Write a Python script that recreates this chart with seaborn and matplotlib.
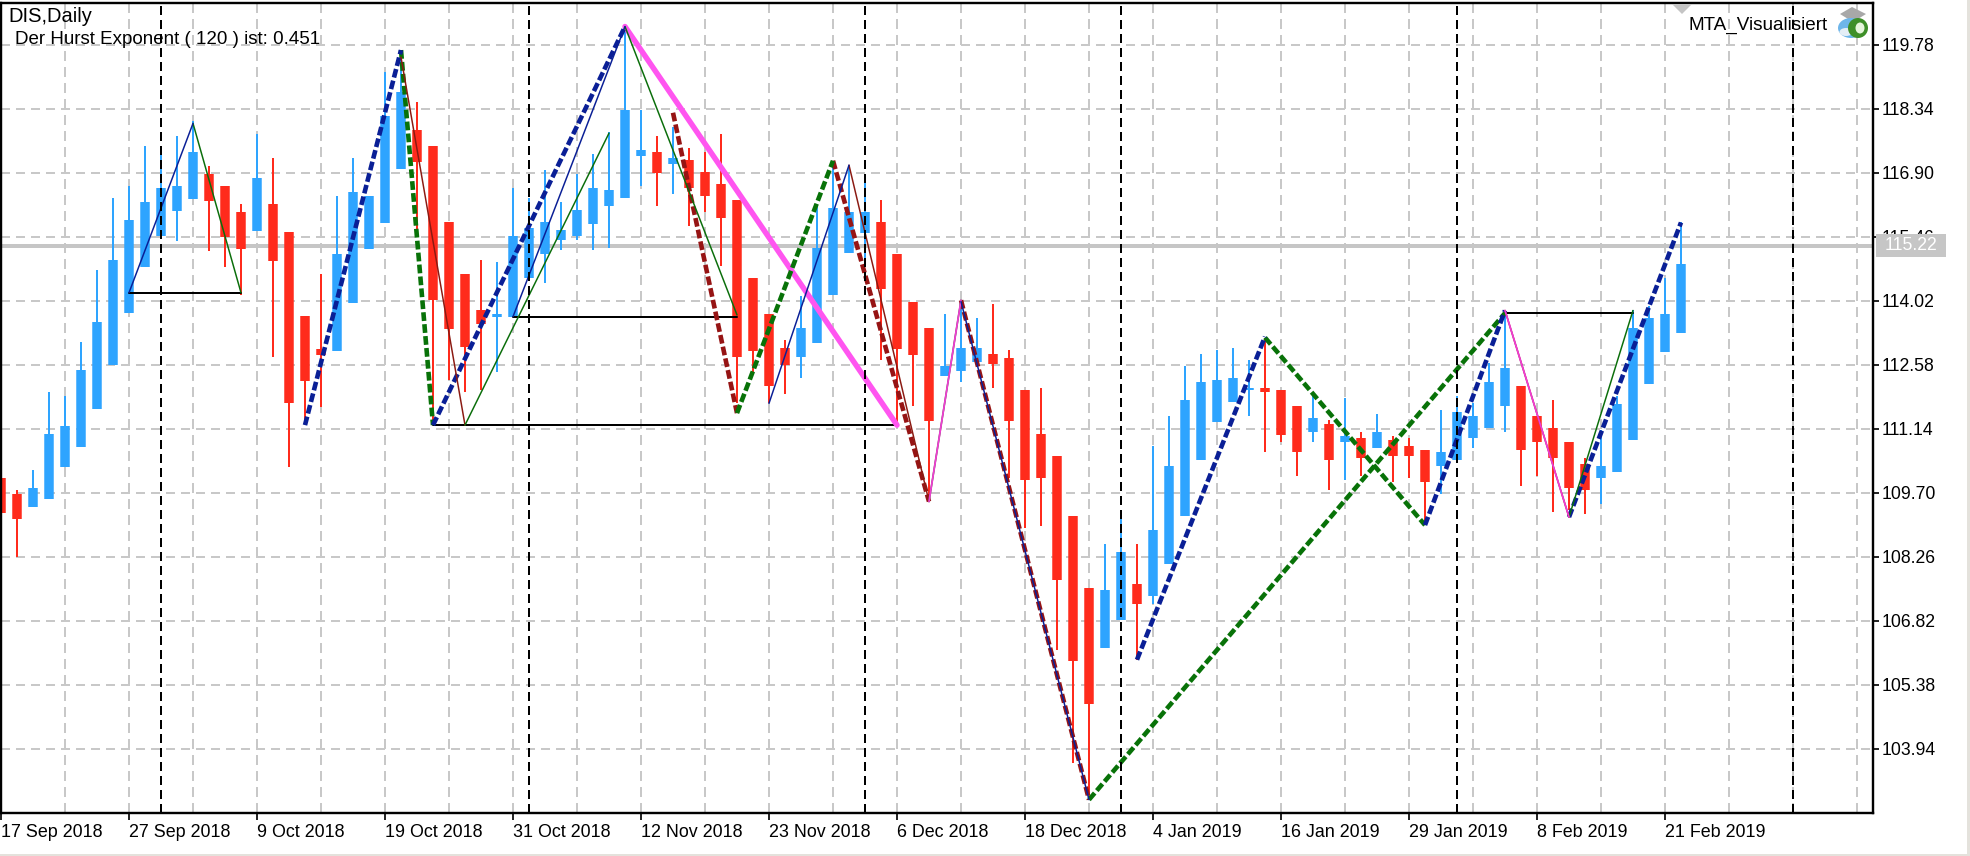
import pandas as pd
import seaborn as sns
import matplotlib
matplotlib.use('Agg')
import matplotlib.pyplot as plt
from matplotlib.patches import Rectangle, Ellipse, Polygon

# candles
opens = [110.03, 109.67, 109.37, 109.55, 110.27, 110.72, 111.58, 112.57, 113.74, 114.77,
         115.48, 116.03, 116.30, 116.87, 116.60, 116.02, 115.58, 116.20, 115.57, 113.68,
         112.94, 112.88, 113.96, 115.18, 115.76, 116.98, 117.86, 117.50, 115.79, 114.62,
         113.81, 113.65, 113.66, 114.53, 115.07, 115.39, 115.48, 115.75, 116.15, 116.33,
         117.28, 117.37, 117.10, 117.19, 116.92, 116.65, 116.29, 114.53, 113.72, 112.96,
         112.75, 113.06, 114.14, 115.09, 115.54, 115.79, 115.07, 113.99, 113.41, 112.33,
         112.43, 112.64, 112.82, 112.73, 112.01, 111.02, 110.53, 109.18, 107.56, 106.21,
         106.84, 107.65, 107.38, 108.10, 109.18, 110.44, 111.29, 111.74, 112.01, 112.06,
         112.01, 111.65, 111.07, 111.25, 110.84, 110.93, 110.71, 110.89, 110.75, 110.66,
         110.30, 110.44, 110.93, 111.16, 111.65, 112.10, 111.43, 111.16, 110.84, 110.35,
         110.03, 110.17, 110.89, 112.15, 112.87, 113.29]
highs = [110.10, 109.76, 110.21, 111.97, 111.88, 113.09, 114.71, 116.33, 116.60, 117.50,
         117.41, 117.73, 118.07, 117.05, 116.60, 116.20, 117.77, 117.23, 115.57, 113.68,
         114.62, 116.38, 117.23, 116.38, 119.17, 119.66, 118.49, 117.50, 115.79, 114.62,
         114.94, 114.89, 116.56, 116.33, 116.96, 116.24, 116.87, 117.32, 117.82, 120.22,
         118.31, 117.73, 117.94, 117.46, 117.37, 117.77, 116.29, 114.53, 113.72, 113.14,
         114.13, 116.15, 117.04, 117.04, 116.78, 116.29, 115.07, 113.99, 113.41, 113.72,
         113.99, 113.63, 113.95, 112.91, 112.01, 112.06, 110.53, 109.18, 107.56, 108.55,
         109.13, 108.55, 110.75, 111.43, 112.55, 112.82, 112.91, 112.96, 112.69, 113.18,
         112.01, 111.65, 111.88, 111.34, 111.83, 111.07, 111.47, 110.98, 110.93, 110.66,
         111.56, 111.88, 111.71, 112.61, 113.80, 112.10, 111.43, 111.79, 110.84, 110.48,
         111.11, 111.88, 113.81, 113.89, 114.53, 115.79]
lows = [109.20, 108.25, 109.37, 109.55, 110.27, 110.72, 111.58, 112.57, 113.74, 114.77,
        115.48, 115.36, 116.30, 115.13, 114.77, 114.14, 115.58, 112.75, 110.27, 111.26,
        111.62, 112.88, 113.96, 115.18, 115.76, 116.98, 115.54, 111.22, 112.24, 111.97,
        112.01, 112.42, 113.66, 114.53, 114.41, 115.16, 115.39, 115.16, 115.21, 116.33,
        116.60, 116.15, 116.42, 115.70, 116.02, 114.80, 111.71, 112.39, 111.71, 111.92,
        112.28, 113.06, 114.14, 115.09, 114.94, 112.69, 111.22, 111.65, 109.54, 112.33,
        112.19, 112.64, 112.06, 110.03, 108.91, 108.95, 106.16, 103.61, 102.79, 106.21,
        106.84, 105.94, 107.20, 108.10, 109.18, 110.44, 111.29, 111.74, 111.43, 110.62,
        110.84, 110.08, 110.85, 109.76, 109.99, 110.08, 110.71, 109.94, 110.03, 109.01,
        109.67, 110.44, 110.71, 111.16, 111.07, 109.85, 110.08, 109.27, 109.31, 109.22,
        109.45, 110.17, 110.89, 112.15, 112.87, 113.29]
closes = [109.24, 109.10, 109.81, 111.02, 111.20, 112.46, 113.54, 114.94, 115.84, 116.24,
          116.56, 116.60, 117.37, 116.26, 115.45, 115.18, 116.78, 114.91, 111.71, 112.21,
          112.79, 115.07, 116.47, 116.38, 118.18, 118.72, 117.14, 114.04, 113.38, 112.97,
          113.50, 113.72, 115.48, 115.66, 115.79, 115.61, 116.06, 116.56, 116.51, 118.31,
          117.41, 116.89, 117.23, 116.56, 116.38, 115.88, 112.75, 112.88, 112.10, 112.57,
          113.41, 115.21, 116.11, 116.02, 116.02, 114.28, 112.93, 112.79, 111.31, 112.55,
          112.96, 112.96, 112.60, 111.31, 109.99, 110.03, 107.74, 105.90, 104.95, 107.51,
          108.37, 107.20, 108.86, 110.30, 111.79, 112.19, 112.24, 112.28, 112.06, 111.97,
          111.00, 110.62, 111.38, 110.44, 110.98, 110.48, 111.07, 110.53, 110.53, 109.94,
          110.62, 111.52, 111.43, 112.19, 112.51, 110.66, 110.84, 110.48, 109.81, 109.76,
          110.30, 111.70, 113.41, 113.63, 113.72, 114.85]

# zigzag lines as (bar, price) pairs
blue_thick = [[(19, 111.22), (25, 119.66)], [(27, 111.22), (39, 120.19)],
              [(71, 105.94), (79, 113.21)], [(89, 108.97), (94, 113.80)],
              [(98, 109.15), (105, 115.78)]]
green_thick = [[(25, 119.66), (27, 111.22)], [(46, 111.49), (52, 117.17)],
               [(68, 102.79), (94, 113.74)], [(79, 113.19), (89, 108.97)]]
red_thick = [[(42, 118.25), (46, 111.49)], [(52, 117.17), (58, 109.50)],
             [(60, 114.03), (68, 102.79)]]
magenta_thick = [[(39, 120.19), (56, 111.22)]]
red_thin = [[(25, 119.50), (29, 111.22)], [(53, 117.07), (58, 109.50)],
            [(94, 113.80), (98, 109.15)]]
green_thin = [[(12, 118.01), (15, 114.20)], [(39, 120.19), (46, 113.70)],
              [(29, 111.22), (38, 117.79)], [(58, 109.50), (60, 114.03)],
              [(98, 109.15), (102, 113.80)]]
blue_thin = [[(8, 114.20), (12, 118.01)], [(32, 113.66), (39, 120.19)],
             [(48, 111.71), (53, 117.07)], [(60, 114.00), (68, 102.79)]]
magenta_thin = [[(58, 109.50), (60, 114.03)], [(94, 113.80), (98, 109.15)]]
black_flat = [[(8, 114.20), (15, 114.20)], [(32, 113.66), (46, 113.66)],
              [(27, 111.22), (56, 111.22)], [(94, 113.75), (102, 113.75)]]

price_ticks = [119.78, 118.34, 116.90, 115.46, 114.02, 112.58, 111.14, 109.70, 108.26,
               106.82, 105.38, 103.94]
date_ticks = [0, 8, 16, 24, 32, 40, 48, 56, 64, 72, 80, 88, 96, 104]
date_labels = ['17 Sep 2018', '27 Sep 2018', '9 Oct 2018', '19 Oct 2018', '31 Oct 2018',
               '12 Nov 2018', '23 Nov 2018', '6 Dec 2018', '18 Dec 2018', '4 Jan 2019',
               '16 Jan 2019', '29 Jan 2019', '8 Feb 2019', '21 Feb 2019']
grid_bars = list(range(4, 117, 4))
period_bars = [10, 33, 54, 70, 91, 112]
last_price = 115.25

W, H = 1970, 856
PX = 0.72  # one pixel in points at dpi 100
BLUE, RED = '#2EA4FF', '#FF2B1C'
GREY = '#C6C6C6'

sns.set_theme(style='white')
plt.rcParams['font.family'] = ['Liberation Sans', 'DejaVu Sans']

fig = plt.figure(figsize=(W / 100, H / 100), dpi=100, facecolor='white')
ax = fig.add_axes([1 / W, 1 - 813 / H, 1872 / W, 810 / H])
ax.set_xlim(0, 117)
ax.set_ylim(102.49, 120.72)


def fx(x):
    return x / W


def fy(y):
    return 1 - y / H


# grid
for b in grid_bars:
    ax.axvline(b, color='#C8C8C8', lw=2 * PX, ls=(0, (5, 3)), zorder=1)
for p in price_ticks:
    ax.axhline(p, color='#C8C8C8', lw=2 * PX, ls=(0, (4.5, 3)), zorder=1)
ax.axhline(last_price, color=GREY, lw=4 * PX, zorder=1.2)

# candles through seaborn, one short vertical line per bar
rows_wick, rows_body = [], []
for i, (o, h, l, c) in enumerate(zip(opens, highs, lows, closes)):
    side = 'up' if c >= o else 'down'
    rows_wick += [(i, h, side), (i, l, side)]
    rows_body += [(i, o, side), (i, c, side)]
wicks = pd.DataFrame(rows_wick, columns=['bar', 'price', 'side'])
bodies = pd.DataFrame(rows_body, columns=['bar', 'price', 'side'])
palette = {'up': BLUE, 'down': RED}
sns.lineplot(data=wicks, x='bar', y='price', hue='side', units='bar', estimator=None,
             palette=palette, linewidth=2 * PX, legend=False, ax=ax, zorder=2,
             solid_capstyle='butt')
sns.lineplot(data=bodies, x='bar', y='price', hue='side', units='bar', estimator=None,
             palette=palette, linewidth=9.5 * PX, legend=False, ax=ax, zorder=2.1,
             solid_capstyle='butt')


def draw_legs(legs, color, width, zorder, dash=None):
    for leg in legs:
        bars = [pt[0] for pt in leg]
        prices = [pt[1] for pt in leg]
        kw = {'linestyle': (0, dash)} if dash else {}
        sns.lineplot(x=bars, y=prices, color=color, linewidth=width * PX, ax=ax, sort=False,
                     estimator=None, legend=False, zorder=zorder, **kw)


draw_legs(black_flat, 'black', 2, 3)
draw_legs(magenta_thick, '#FF55F0', 5.5, 3.1)
draw_legs(red_thick, '#961414', 4.6, 3.2, dash=(1.9, 0.7))
draw_legs(green_thick, '#087208', 4.6, 3.3, dash=(1.9, 0.7))
draw_legs(blue_thick, '#0A1F96', 4.6, 3.4, dash=(1.9, 0.7))
draw_legs(red_thin, '#8B1A12', 1.5, 3.5)
draw_legs(green_thin, '#0B6E0B', 1.5, 3.6)
draw_legs(magenta_thin, '#F03CD2', 1.8, 3.7)
draw_legs(blue_thin, '#0A1F96', 1.5, 3.8)

for b in period_bars:
    ax.axvline(b, color='black', lw=2 * PX, ls=(0, (4.5, 2.5)), zorder=3.9)

# axes
for side in ax.spines:
    ax.spines[side].set_visible(True)
    ax.spines[side].set_color('black')
    ax.spines[side].set_linewidth(2.4 * PX)
ax.set_xlabel('')
ax.set_ylabel('')
ax.yaxis.tick_right()
ax.set_yticks(price_ticks)
ax.set_yticklabels([f'{p:.2f}' for p in price_ticks], fontsize=12.7, color='black')
ax.tick_params(axis='y', which='major', right=True, length=6 * PX, width=2 * PX, pad=3 * PX)
ax.set_xticks(date_ticks)
ax.set_xticklabels(date_labels, fontsize=12.9, color='black', ha='left')
ax.tick_params(axis='x', which='major', bottom=True, length=7 * PX, width=2 * PX, pad=4 * PX)

# chart header and expert name
fig.text(fx(8), fy(17), 'DIS,Daily', fontsize=14.5, color='black', va='center', zorder=8)
fig.text(fx(15), fy(39), 'Der Hurst Exponent ( 120 ) ist: 0.451', fontsize=13.5,
         color='black', va='center', zorder=8)
fig.text(fx(1688), fy(25), 'MTA_Visualisiert', fontsize=13.6, color='black', va='center', zorder=8)

# price label over the hidden tick text
fig.add_artist(Rectangle((fx(1876), fy(257)), 70 / W, 23 / H, transform=fig.transFigure,
                         fc=GREY, ec='none', zorder=9))
fig.text(fx(1911), fy(246), '115.22', fontsize=12.7, color='white', ha='center', va='center', zorder=10)

# shift marker on the top edge
fig.add_artist(Polygon([(fx(1672), fy(4)), (fx(1692), fy(4)), (fx(1682), fy(14))],
                       transform=fig.transFigure, fc='#C4C4C4', ec='none', zorder=6))

# little expert icon
fig.add_artist(Polygon([(fx(1840), fy(14)), (fx(1852), fy(7)), (fx(1866), fy(14)), (fx(1853), fy(22))],
                       transform=fig.transFigure, fc='#A8A8A8', ec='none', zorder=6))
fig.add_artist(Ellipse((fx(1851), fy(28)), 26 / W, 20 / H, transform=fig.transFigure,
                       fc='#6EB6EA', ec='none', zorder=6.1))
fig.add_artist(Ellipse((fx(1846), fy(32)), 13 / W, 8 / H, transform=fig.transFigure,
                       fc='#E4EEF6', ec='none', zorder=6.2))
fig.add_artist(Ellipse((fx(1858), fy(28)), 20 / W, 20 / H, transform=fig.transFigure,
                       fc='#3E8F28', ec='none', zorder=6.3))
fig.add_artist(Ellipse((fx(1860), fy(28)), 9 / W, 11 / H, transform=fig.transFigure,
                       fc='#E6F5DC', ec='none', zorder=6.4))

# window border at the right and bottom
fig.add_artist(Rectangle((fx(1967), 0), 3 / W, 1, transform=fig.transFigure, fc='#E4E2DC', ec='none', zorder=7))
fig.add_artist(Rectangle((0, 0), 1, 2 / H, transform=fig.transFigure, fc='#E4E2DC', ec='none', zorder=7))

fig.savefig('out.png', dpi=100, facecolor='white')
